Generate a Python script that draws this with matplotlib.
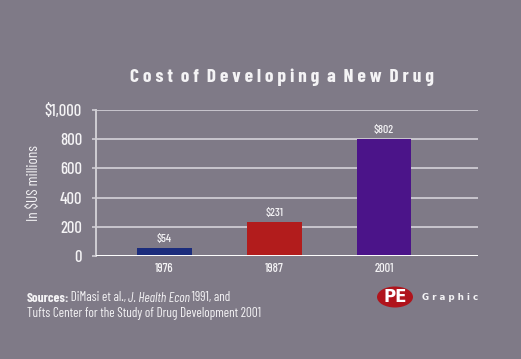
import matplotlib.pyplot as plt
from matplotlib.patches import Ellipse

# data
years  = ["1976", "1987", "2001"]
costs  = [54, 231, 802]
labels = ["$54", "$231", "$802"]
colors = ["#1b2c7c", "#b21c1c", "#4b1489"]
yticks = [0, 200, 400, 600, 800, 1000]
ytick_labels = ["0", "200", "400", "600", "800", "$1,000"]

bg = "#7f7a87"
fg = "#f4f3f5"
narrow = ["Barlow Condensed", "DejaVu Sans"]
plt.rcParams["font.family"] = narrow

fig = plt.figure(figsize=(5.21, 3.59), dpi=100, facecolor=bg)
ax = fig.add_axes([96 / 521, 1 - 256 / 359, 382 / 521, 146 / 359])
ax.set_facecolor(bg)

x = range(len(years))
ax.bar(x, costs, width=0.5, color=colors, zorder=3)
for i, (v, lab) in enumerate(zip(costs, labels)):
    ax.text(i, v + 28, lab, ha="center", va="bottom", color=fg, fontsize=8.5, fontweight="medium")

ax.set_xlim(-0.62, 2.855)
ax.set_ylim(0, 1000)
ax.set_yticks(yticks)
ax.set_yticklabels(ytick_labels)
ax.set_xticks(list(x))
ax.set_xticklabels(years)
ax.tick_params(axis="y", colors="#d0ced4", labelcolor=fg, labelsize=12, length=3, width=1.2, pad=7)
ax.tick_params(axis="x", length=0, labelcolor=fg, labelsize=9, pad=5)
for t in ax.get_xticklabels() + ax.get_yticklabels():
    t.set_fontweight("medium")
ax.grid(axis="y", color="#c9c6cd", linewidth=1.4, zorder=0)
ax.axhline(0, color="white", linewidth=1.4, zorder=4)
for s in ["top", "right", "bottom"]:
    ax.spines[s].set_visible(False)
ax.spines["left"].set_color("#d0ced4")
ax.spines["left"].set_linewidth(1.4)
ax.set_ylabel("In $US millions", color=fg, fontsize=11, labelpad=3)

# letter-spaced title
title = "Cost of Developing a New Drug"
spaced = "  ".join("\u2009".join(w) for w in title.split(" "))
fig.text(282 / 521, 1 - 77 / 359, spaced, ha="center", va="center", color=fg,
         fontsize=14, fontweight="bold")

# sources line with mixed styles
renderer = fig.canvas.get_renderer()
pieces = [("Sources:", "normal", "bold"), (" DiMasi et al., ", "normal", "normal"),
          ("J. Health Econ", "italic", "normal"), (" 1991, and", "normal", "normal")]
px = 27
for txt, style, weight in pieces:
    t = fig.text(px / 521, 1 - 298 / 359, txt, color=fg, fontsize=9.5, va="center",
                 style=style, fontweight=weight)
    px += t.get_window_extent(renderer).width - 1
fig.text(27 / 521, 1 - 313 / 359, "Tufts Center for the Study of Drug Development 2001",
         color=fg, fontsize=9.5, va="center")

# PE Graphic logo
logo = Ellipse((395 / 521, 1 - 297 / 359), 36 / 521, 21 / 359, transform=fig.transFigure,
               facecolor="#b0141c", edgecolor="none")
fig.add_artist(logo)
fig.text(395 / 521, 1 - 297 / 359, "PE", ha="center", va="center", color="white",
         fontsize=12, fontweight="heavy", family=["DejaVu Sans"])
fig.text(422 / 521, 1 - 298 / 359, "G r a p h i c", ha="left", va="center", color=fg,
         fontsize=6.3, fontweight="bold", family=["DejaVu Sans"])

fig.savefig("out.png", dpi=100, facecolor=bg)
